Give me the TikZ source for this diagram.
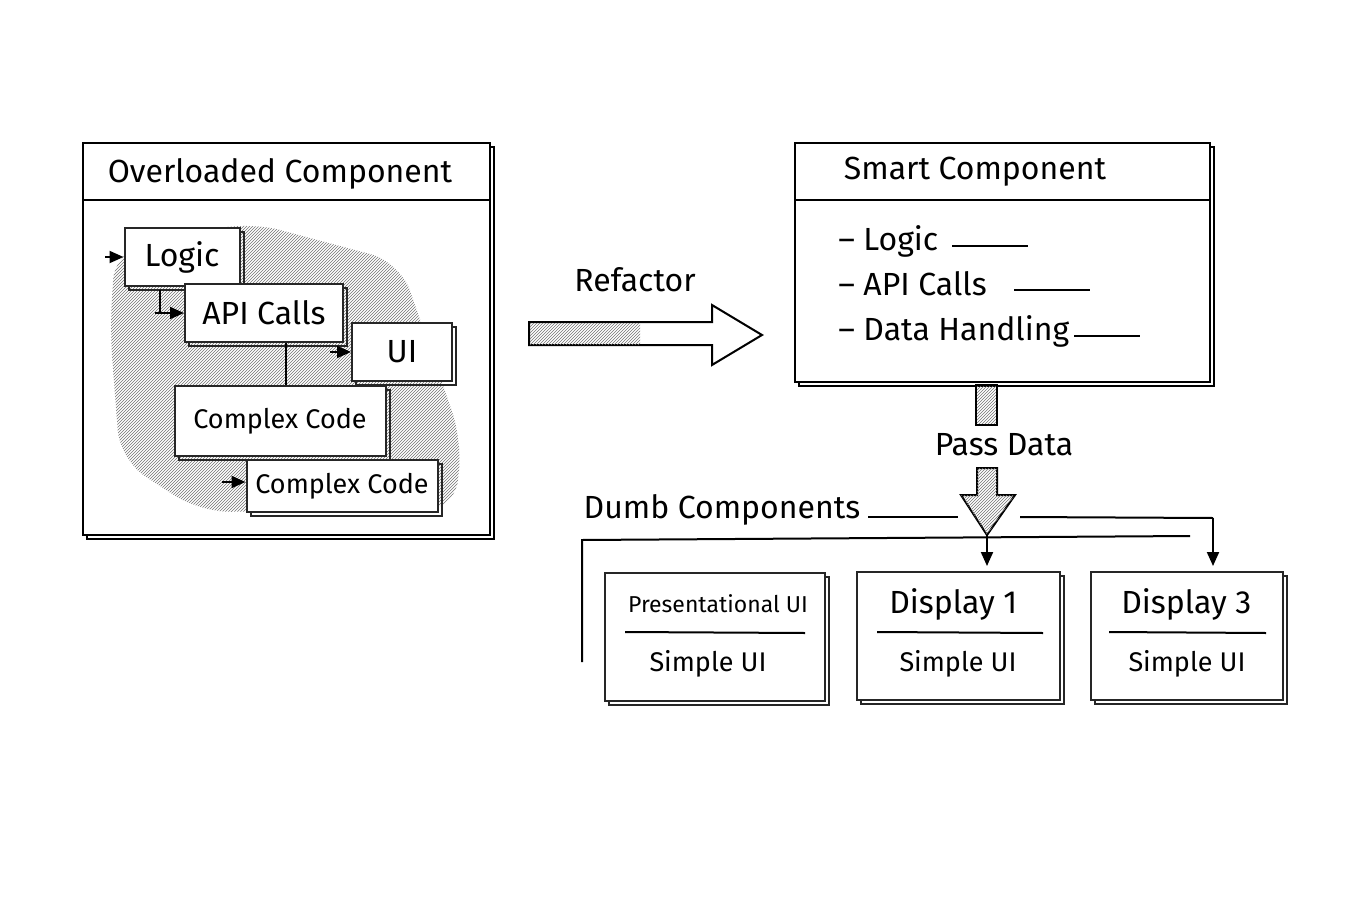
\documentclass[tikz,border=0pt]{standalone}
\usepackage{fontspec}
\setmainfont{Fira Sans}
\usetikzlibrary{patterns,arrows.meta}
\begin{document}
\begin{tikzpicture}[x=1pt,y=-1pt,line width=2pt,
  sk/.style={draw=black!85,fill=white,rectangle,inner sep=0pt},
  shadowed/.style={draw, preaction={draw,transform canvas={shift={(4pt,-4pt)}}}},
  t/.style={font=\fontsize{32}{34}\selectfont},
  ts/.style={font=\fontsize{27}{29}\selectfont},
  arr/.style={-{Triangle[length=14pt,width=12pt]}},
  hatch/.style={pattern={north east lines},pattern color=black!55}]
\useasboundingbox (0,0) rectangle (1358,905);
% ---- overloaded component
\draw[shadowed,fill=white] (83,143) rectangle (490,535);
\coordinate (ovl) at (83,200); \coordinate (ovr) at (490,200);
\draw (ovl) -- (ovr);
\node[t] (ovt) at (280,174) {Overloaded Component};
\fill[hatch,rounded corners=30pt] (115,250) -- (250,222) -- (400,262) -- (462,440) -- (455,510) -- (200,512) -- (120,460) -- (110,330) -- cycle;
\node[sk,shadowed,minimum width=115pt,minimum height=58pt] (logic) at (182,257) {};
\node[t] at (logic) {Logic};
\node[sk,shadowed,minimum width=158pt,minimum height=58pt] (api) at (264,313) {};
\node[t] at (api) {API Calls};
\node[sk,shadowed,minimum width=100pt,minimum height=58pt] (ui) at (402,352) {};
\node[t] at (ui) {UI};
\draw (286,343) -- (286,386);
\node[sk,shadowed,minimum width=211pt,minimum height=70pt] (cc1) at (280,421) {};
\node[ts] at (cc1) {Complex Code};
\node[sk,shadowed,minimum width=191pt,minimum height=52pt] (cc2) at (342,486) {};
\node[ts] at (cc2) {Complex Code};
\coordinate (la) at (105,257); \draw[arr] (la) -- (logic.west);
\coordinate (aa) at (155,313); \coordinate (ab) at (160,290);
\draw (ab) -- (160,313); \draw[arr] (aa) -- (api.west);
\coordinate (ua) at (330,352); \draw[arr] (ua) -- (ui.west);
\coordinate (ca) at (222,482); \draw[arr] (ca) -- (cc2.west |- ca);
% ---- refactor arrow
\node[t] (ref) at (635,280) {Refactor};
\draw[fill=white] (529,322) -- (712,322) -- (712,305) -- (762,335) -- (712,365) -- (712,345) -- (529,345) -- cycle;
\fill[hatch] (530,323) rectangle (640,344);
% ---- smart component
\draw[shadowed,fill=white] (795,143) rectangle (1210,382);
\draw (795,200) -- (1210,200);
\node[t] (smt) at (975,172) {Smart Component};
\node[t,anchor=west] (s1) at (834,241) {– Logic};
\draw (952,246) -- (1028,246);
\node[t,anchor=west] (s2) at (834,284) {– API Calls};
\draw (1014,290) -- (1090,290);
\node[t,anchor=west] (s3) at (834,331) {– Data Handling};
\draw (1074,336) -- (1140,336);
% ---- pass data
\draw[hatch] (976,385) rectangle (997,425);
\draw (976,385) rectangle (997,425);
\node[t] (pd) at (1004,445) {Pass Data};
\draw[fill=white] (977,468) -- (997,468) -- (997,495) -- (1015,495) -- (987,535) -- (961,495) -- (977,495) -- cycle;
\fill[hatch] (977,468) -- (997,468) -- (997,495) -- (1015,495) -- (987,535) -- (961,495) -- (977,495) -- cycle;
\node[t] (dumb) at (722,510) {Dumb Components};
\draw (868,517) -- (958,517);
% ---- dumb components
\node[sk,shadowed,minimum width=220pt,minimum height=128pt] (p) at (715,637) {};
\node[sk,shadowed,minimum width=203pt,minimum height=128pt] (d1) at (958,636) {};
\node[sk,shadowed,minimum width=192pt,minimum height=128pt] (d3) at (1187,636) {};
\draw (625,632) -- (805,633);
\node[font=\fontsize{23}{25}\selectfont] at (718,604) {Presentational UI};
\node[ts] at (708,664) {Simple UI};
\draw (877,632) -- (1043,633);
\node[t,anchor=west] at (885,604) {Display 1};
\node[ts] at (958,664) {Simple UI};
\draw (1109,632) -- (1266,633);
\node[t,anchor=west] at (1117,604) {Display 3};
\node[ts] at (1187,664) {Simple UI};
\coordinate (rc) at (1213,518);
\coordinate (rd) at (1213,566);
\draw (1020,517) -- (rc);
\draw[arr] (rc) -- (rd);
\coordinate (mc) at (987,535); \coordinate (md) at (987,566);
\draw[arr] (mc) -- (md);
\draw (1190,536) -- (582,540) -- (582,662);
\end{tikzpicture}
\end{document}
